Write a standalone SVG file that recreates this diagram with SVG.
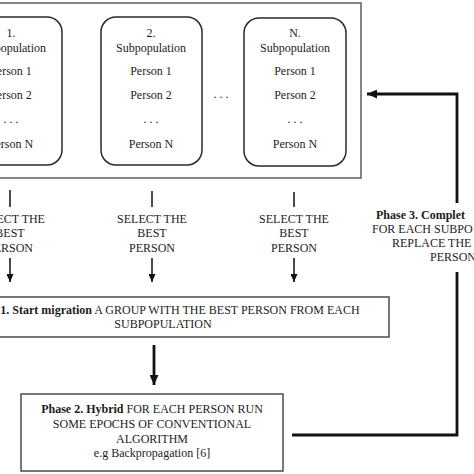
<svg xmlns="http://www.w3.org/2000/svg" width="474" height="474" viewBox="0 0 474 474">
<defs>
<style>
text{font-size:12px;fill:#1c1c1c}
.c{text-anchor:middle}
.b{font-weight:bold}
.sub{fill:none;stroke:#2a2a2a;stroke-width:1.5}
.box{fill:#fff;stroke:#555;stroke-width:1.6}
.thin{fill:none;stroke:#111;stroke-width:1.5}
.thick{fill:none;stroke:#111;stroke-width:2.8}
</style>
<marker id="aS" markerUnits="userSpaceOnUse" markerWidth="8" markerHeight="7" refX="8" refY="3.5" orient="auto"><path d="M0,0 L8,3.5 L0,7 z" fill="#111"/></marker>
<marker id="aL" markerUnits="userSpaceOnUse" markerWidth="10" markerHeight="9" refX="10" refY="4.5" orient="auto"><path d="M0,0 L10,4.5 L0,9 z" fill="#111"/></marker>
</defs>
<rect width="474" height="474" fill="#fff"/>
<g font-family="Liberation Serif, DejaVu Serif, serif">
<g id="population">
<rect x="-40" y="3" width="401" height="175" fill="none" stroke="#666" stroke-width="1.6"/>
<text class="c" x="221" y="98">. . .</text>
</g>
<g id="sub1">
<rect class="sub" x="-39" y="17" width="101" height="148" rx="15"/>
<text class="c" x="11" y="37">1.</text>
<text class="c" x="11" y="52">Subpopulation</text>
<text class="c" x="11" y="75">Person 1</text>
<text class="c" x="11" y="99">Person 2</text>
<text class="c" x="11" y="123">. . .</text>
<text class="c" x="11" y="148">Person N</text>
</g>
<g id="sub2">
<rect class="sub" x="101" y="17" width="101" height="148" rx="15"/>
<text class="c" x="151" y="37">2.</text>
<text class="c" x="151" y="52">Subpopulation</text>
<text class="c" x="151" y="75">Person 1</text>
<text class="c" x="151" y="99">Person 2</text>
<text class="c" x="151" y="123">. . .</text>
<text class="c" x="151" y="148">Person N</text>
</g>
<g id="subN">
<rect class="sub" x="244" y="18" width="102" height="148" rx="15"/>
<text class="c" x="295" y="37">N.</text>
<text class="c" x="295" y="52">Subpopulation</text>
<text class="c" x="295" y="75">Person 1</text>
<text class="c" x="295" y="99">Person 2</text>
<text class="c" x="295" y="123">. . .</text>
<text class="c" x="295" y="148">Person N</text>
</g>
<g id="select1">
<text class="c" x="10" y="223">SELECT THE</text>
<text class="c" x="10" y="237">BEST</text>
<text class="c" x="10" y="252">PERSON</text>
</g>
<g id="select2">
<text class="c" x="152" y="223">SELECT THE</text>
<text class="c" x="152" y="237">BEST</text>
<text class="c" x="152" y="252">PERSON</text>
</g>
<g id="select3">
<text class="c" x="294" y="223">SELECT THE</text>
<text class="c" x="294" y="237">BEST</text>
<text class="c" x="294" y="252">PERSON</text>
</g>
<g id="phase3">
<text x="376" y="219"><tspan class="b">Phase 3. Complet</tspan></text>
<text x="372" y="233">FOR EACH SUBPO</text>
<text x="392" y="247">REPLACE THE</text>
<text x="430" y="261">PERSON</text>
</g>
<g id="migration">
<rect class="box" x="-30" y="297" width="419" height="40"/>
<text class="c" x="180" y="314"><tspan class="b">1. Start migration</tspan> A GROUP WITH THE BEST PERSON FROM EACH</text>
<text class="c" x="163" y="328">SUBPOPULATION</text>
</g>
<g id="phase2">
<rect class="box" x="21" y="394" width="262" height="77"/>
<text class="c" x="152" y="413"><tspan class="b">Phase 2. Hybrid</tspan> FOR EACH PERSON RUN</text>
<text class="c" x="152" y="428">SOME EPOCHS OF CONVENTIONAL</text>
<text class="c" x="152" y="443">ALGORITHM</text>
<text class="c" x="152" y="457">e.g Backpropagation [6]</text>
</g>
</g>
<g id="connectors">
<line class="thin" x1="10" y1="190" x2="10" y2="207"/>
<line class="thin" x1="152" y1="191" x2="152" y2="207"/>
<line class="thin" x1="294" y1="192" x2="294" y2="207"/>
<line class="thin" x1="10" y1="258" x2="10" y2="282" marker-end="url(#aS)"/>
<line class="thin" x1="152" y1="258" x2="152" y2="282" marker-end="url(#aS)"/>
<line class="thin" x1="294" y1="258" x2="294" y2="282" marker-end="url(#aS)"/>
<line class="thick" x1="154" y1="345" x2="154" y2="385" marker-end="url(#aL)"/>
<path class="thick" d="M292,435 H457 V272"/>
<path class="thick" d="M457,203 V94 H367" marker-end="url(#aL)"/>
</g>
</svg>
